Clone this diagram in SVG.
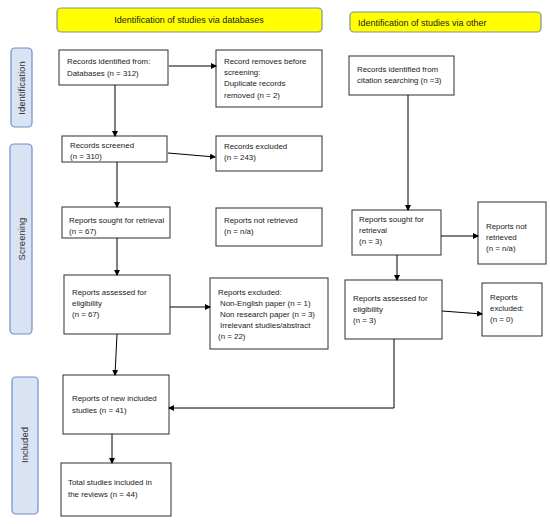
<svg xmlns="http://www.w3.org/2000/svg" width="550" height="524" viewBox="0 0 550 524">
<defs>
<marker id="arr" markerWidth="6" markerHeight="6" refX="5" refY="3" orient="auto" markerUnits="userSpaceOnUse">
<path d="M0,0 L6,3 L0,6 Z" fill="#000"/>
</marker>
<style>
.box{fill:#fff;stroke:#404040;stroke-width:1.1}
.hdr{fill:#ffff00;stroke:#7f8fa6;stroke-width:1.2}
.side{fill:#dae3f3;stroke:#6f8fc8;stroke-width:1.2}
text{font-family:"Liberation Sans",Arial,sans-serif;font-size:7.9px;fill:#1a1a1a}
.ht{font-size:9px}
.st{font-size:9.5px;fill:#333}
.c{fill:none;stroke:#000;stroke-width:1;marker-end:url(#arr)}
</style>
</defs>
<g id="hdr-db"><rect class="hdr" x="57" y="8" width="265" height="24" rx="4"/><text class="ht" x="189" y="23" text-anchor="middle">Identification of studies via databases</text></g>
<g id="hdr-other"><rect class="hdr" x="350" y="12" width="191" height="20" rx="4"/><text class="ht" x="358" y="26">Identification of studies via other</text></g>
<g id="side-ident"><rect class="side" x="11" y="48" width="21" height="79" rx="4"/><text class="st" transform="translate(25,88) rotate(-90)" text-anchor="middle">Identification</text></g>
<g id="side-screen"><rect class="side" x="10" y="144" width="22" height="190" rx="4"/><text class="st" transform="translate(24.5,239) rotate(-90)" text-anchor="middle">Screening</text></g>
<g id="side-incl"><rect class="side" x="12" y="377" width="26" height="137" rx="4"/><text class="st" transform="translate(28,445) rotate(-90)" text-anchor="middle">Included</text></g>

<g id="n1"><rect class="box" x="59" y="50" width="109" height="35"/><text x="67" y="64">Records identified from:</text><text x="67" y="76">Databases (n = 312)</text></g>
<g id="n2"><rect class="box" x="216" y="50" width="106" height="57"/><text x="224" y="64">Record removes before</text><text x="224" y="75">screening:</text><text x="224" y="86">Duplicate records</text><text x="224" y="98">removed (n = 2)</text></g>
<g id="n3"><rect class="box" x="62" y="136" width="105" height="26"/><text x="70" y="148">Records screened</text><text x="70" y="159">(n = 310)</text></g>
<g id="n4"><rect class="box" x="216" y="136" width="106" height="35"/><text x="224" y="149">Records excluded</text><text x="224" y="160">(n = 243)</text></g>
<g id="n5"><rect class="box" x="62" y="207" width="108" height="31"/><text x="69" y="223">Reports sought for retrieval</text><text x="69" y="234">(n = 67)</text></g>
<g id="n6"><rect class="box" x="216" y="208" width="106" height="38"/><text x="224" y="223">Reports not retrieved</text><text x="224" y="234">(n = n/a)</text></g>
<g id="n7"><rect class="box" x="64" y="275" width="106" height="59"/><text x="72" y="295">Reports assessed for</text><text x="72" y="306">eligibility</text><text x="72" y="317">(n = 67)</text></g>
<g id="n8"><rect class="box" x="210" y="278" width="118" height="71"/><text x="218" y="295">Reports excluded:</text><text x="220" y="306">Non-English paper (n = 1)</text><text x="220" y="317">Non research paper (n = 3)</text><text x="220" y="328">Irrelevant studies/abstract</text><text x="218" y="339">(n = 22)</text></g>
<g id="n9"><rect class="box" x="63" y="375" width="106" height="59"/><text x="72" y="401">Reports of new included</text><text x="72" y="413">studies (n = 41)</text></g>
<g id="n10"><rect class="box" x="61" y="463" width="110" height="53"/><text x="68" y="485">Total studies included in</text><text x="68" y="497">the reviews (n = 44)</text></g>

<g id="r1"><rect class="box" x="349" y="56" width="105" height="39"/><text x="357" y="72">Records identified from</text><text x="357" y="83">citation searching (n =3)</text></g>
<g id="r2"><rect class="box" x="352" y="210" width="89" height="45"/><text x="359" y="222">Reports sought for</text><text x="359" y="233">retrieval</text><text x="359" y="244">(n = 3)</text></g>
<g id="r3"><rect class="box" x="478" y="202" width="68" height="62"/><text x="486" y="229">Reports not</text><text x="486" y="240">retrieved</text><text x="486" y="251">(n = n/a)</text></g>
<g id="r4"><rect class="box" x="345" y="280" width="97" height="59"/><text x="353" y="301">Reports assessed for</text><text x="353" y="312">eligibility</text><text x="353" y="323">(n = 3)</text></g>
<g id="r5"><rect class="box" x="482" y="283" width="60" height="53"/><text x="490" y="300">Reports</text><text x="490" y="311">excluded:</text><text x="490" y="322">(n = 0)</text></g>

<g id="connectors">
<line class="c" x1="169" y1="66" x2="216" y2="66"/>
<line class="c" x1="115" y1="85" x2="115" y2="136"/>
<line class="c" x1="168" y1="153" x2="215" y2="157"/>
<line class="c" x1="117" y1="162" x2="117" y2="207"/>
<line class="c" x1="117" y1="238" x2="117" y2="275"/>
<line class="c" x1="170" y1="307" x2="210" y2="307"/>
<line class="c" x1="117" y1="334" x2="115" y2="375"/>
<line class="c" x1="112" y1="434" x2="112" y2="463"/>
<line class="c" x1="408" y1="95" x2="408" y2="210"/>
<line class="c" x1="441" y1="236" x2="478" y2="236"/>
<line class="c" x1="397" y1="255" x2="397" y2="280"/>
<line class="c" x1="442" y1="311" x2="482" y2="314"/>
<polyline class="c" points="394,339 394,408 169,408"/>
</g>
</svg>
